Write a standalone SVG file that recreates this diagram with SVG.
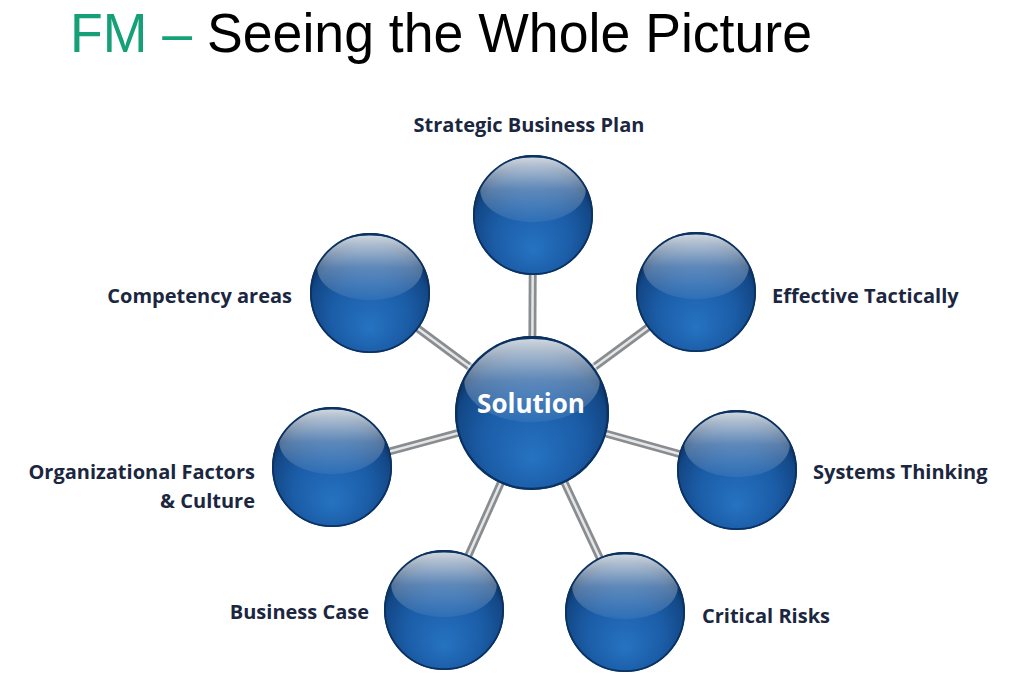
<svg xmlns="http://www.w3.org/2000/svg" width="1024" height="700" viewBox="0 0 1024 700">
<defs>
<radialGradient id="ball" cx="0.5" cy="0.62" r="0.55" fx="0.5" fy="0.8">
<stop offset="0" stop-color="#2673c2"/>
<stop offset="0.6" stop-color="#1b5ca6"/>
<stop offset="0.9" stop-color="#134887"/>
<stop offset="1" stop-color="#0c3566"/>
</radialGradient>
<linearGradient id="gloss" x1="0" y1="0" x2="0" y2="1">
<stop offset="0" stop-color="#ffffff" stop-opacity="0.8"/>
<stop offset="0.5" stop-color="#ffffff" stop-opacity="0.3"/>
<stop offset="1" stop-color="#ffffff" stop-opacity="0.06"/>
</linearGradient>
<symbol id="sphere" viewBox="-1 -1 2 2" overflow="visible">
<circle r="1" fill="url(#ball)"/>
<ellipse cx="0" cy="-0.42" rx="0.88" ry="0.54" fill="url(#gloss)"/>
<circle r="0.985" fill="none" stroke="#0b3160" stroke-width="0.03"/>
</symbol>
<style>
.rod{stroke:#8a8d90;stroke-width:8;stroke-linecap:butt}
.rodhi{stroke:#e4e6e8;stroke-width:2.5}
.lbl{font-family:"Open Sans","Liberation Sans",sans-serif;font-weight:bold;font-size:20px;fill:#1b2640}
</style>
</defs>
<rect width="1024" height="700" fill="#ffffff"/>
<text x="70" y="52" font-family="'Liberation Sans',sans-serif" font-size="55" textLength="742" lengthAdjust="spacingAndGlyphs"><tspan fill="#16a077">FM – </tspan><tspan fill="#000000">Seeing the Whole Picture</tspan></text>
<g id="connectors">
<line class="rod" x1="532" y1="413" x2="533" y2="215"/>
<line class="rod" x1="532" y1="413" x2="370" y2="293"/>
<line class="rod" x1="532" y1="413" x2="696" y2="292"/>
<line class="rod" x1="532" y1="413" x2="332" y2="467"/>
<line class="rod" x1="532" y1="413" x2="737" y2="470"/>
<line class="rod" x1="532" y1="413" x2="444" y2="610"/>
<line class="rod" x1="532" y1="413" x2="625" y2="612"/>
<line class="rodhi" x1="532" y1="413" x2="533" y2="215"/>
<line class="rodhi" x1="532" y1="413" x2="370" y2="293"/>
<line class="rodhi" x1="532" y1="413" x2="696" y2="292"/>
<line class="rodhi" x1="532" y1="413" x2="332" y2="467"/>
<line class="rodhi" x1="532" y1="413" x2="737" y2="470"/>
<line class="rodhi" x1="532" y1="413" x2="444" y2="610"/>
<line class="rodhi" x1="532" y1="413" x2="625" y2="612"/>
</g>
<g id="n-strategic"><use href="#sphere" x="473" y="155" width="120" height="120"/><text class="lbl" x="529" y="132" text-anchor="middle">Strategic Business Plan</text></g>
<g id="n-competency"><use href="#sphere" x="310" y="233" width="120" height="120"/><text class="lbl" x="292" y="303" text-anchor="end">Competency areas</text></g>
<g id="n-effective"><use href="#sphere" x="636" y="232" width="120" height="120"/><text class="lbl" x="772" y="303">Effective Tactically</text></g>
<g id="n-organizational"><use href="#sphere" x="272" y="407" width="120" height="120"/><text class="lbl" x="255" y="479" text-anchor="end">Organizational Factors</text><text class="lbl" x="255" y="508" text-anchor="end">&amp; Culture</text></g>
<g id="n-systems"><use href="#sphere" x="677" y="410" width="120" height="120"/><text class="lbl" x="813" y="479">Systems Thinking</text></g>
<g id="n-business"><use href="#sphere" x="384" y="550" width="120" height="120"/><text class="lbl" x="369" y="619" text-anchor="end">Business Case</text></g>
<g id="n-critical"><use href="#sphere" x="565" y="552" width="120" height="120"/><text class="lbl" x="702" y="623">Critical Risks</text></g>
<g id="n-solution"><use href="#sphere" x="455" y="336" width="154" height="154"/><text x="531" y="413" text-anchor="middle" font-family="'Open Sans','Liberation Sans',sans-serif" font-weight="bold" font-size="26" fill="#ffffff">Solution</text></g>
</svg>
